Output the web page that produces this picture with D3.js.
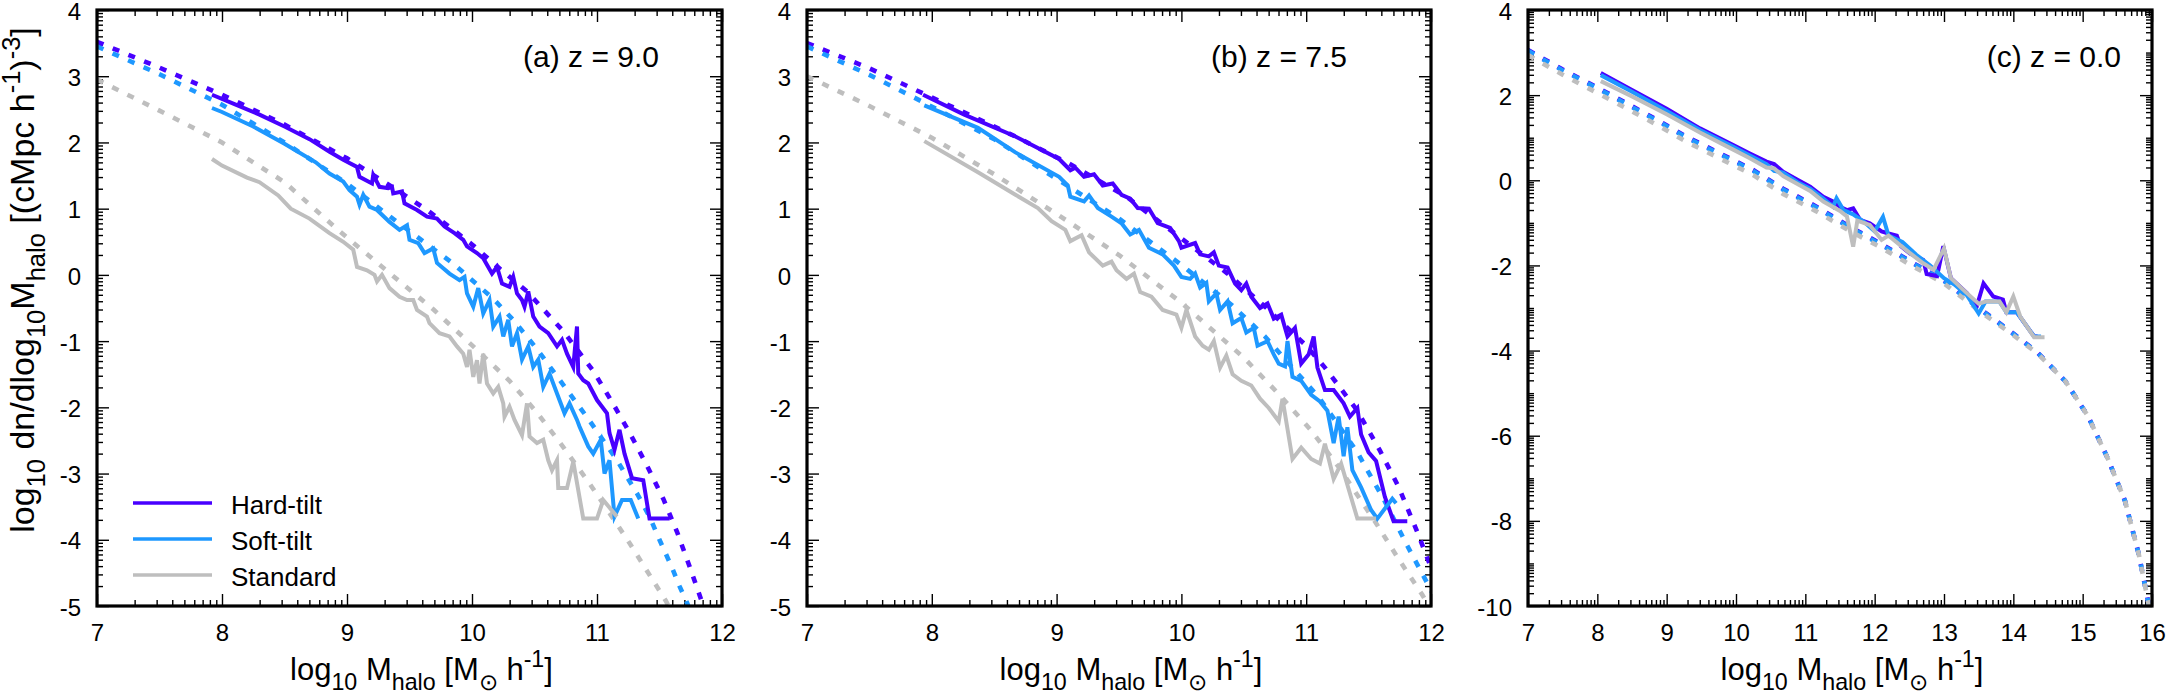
<!DOCTYPE html>
<html lang="en">
<head>
  <meta charset="UTF-8" />
  <title>Halo mass function</title>
  <script src="https://d3js.org/d3.v7.min.js"></script>
  <style>
    body { margin: 0; padding: 0; background: #fff; }
    svg { display: block; font-family: "Liberation Sans", Arial, Helvetica, sans-serif; }
    .tick line { stroke: #000; stroke-width: 1.4; }
    .tick text { fill: #000; }
  </style>
</head>
<body>
<div id="chart"></div>
<script>
  // tick values
  const xTicksAB = [7, 8, 9, 10, 11, 12];
  const xTicksC = [7, 8, 9, 10, 11, 12, 13, 14, 15, 16];
  const yTicksAB = [-5, -4, -3, -2, -1, 0, 1, 2, 3, 4];
  const yTicksC = [-10, -8, -6, -4, -2, 0, 2, 4];

  const seriesNames = ["Hard-tilt", "Soft-tilt", "Standard"];
  const seriesColors = ["#4800ff", "#1e98ff", "#bebebe"];

  // (a) z = 9.0  -- simulation (solid), [log10 M, log10 dn/dlogM]
  const hardSimA = [[7.92,2.72],[8.1,2.58],[8.3,2.42],[8.5,2.24],[8.7,2.05],[8.86,1.86],[8.97,1.74],[9.08,1.63],[9.1,1.48],[9.2,1.38],[9.21,1.51],[9.26,1.33],[9.33,1.31],[9.36,1.33],[9.37,1.23],[9.44,1.26],[9.46,1.08],[9.56,0.98],[9.64,0.88],[9.72,0.85],[9.78,0.73],[9.86,0.63],[9.93,0.53],[9.96,0.43],[10.04,0.33],[10.09,0.25],[10.16,0.02],[10.2,0.12],[10.24,-0.13],[10.3,-0.18],[10.33,-0.03],[10.36,-0.28],[10.4,-0.38],[10.42,-0.48],[10.45,-0.25],[10.49,-0.63],[10.54,-0.78],[10.61,-0.88],[10.68,-1.08],[10.72,-0.98],[10.76,-1.19],[10.81,-1.39],[10.84,-0.78],[10.85,-1.49],[10.89,-1.59],[10.93,-1.64],[11.0,-1.89],[11.08,-2.09],[11.1,-2.39],[11.14,-2.64],[11.18,-2.34],[11.22,-2.7],[11.28,-3.07],[11.37,-3.1],[11.42,-3.68],[11.58,-3.68]];
  const softSimA = [[7.92,2.52],[8.0,2.46],[8.25,2.24],[8.5,1.98],[8.75,1.7],[8.86,1.53],[8.97,1.41],[9.02,1.28],[9.08,1.18],[9.1,1.06],[9.13,1.21],[9.18,1.03],[9.24,0.98],[9.34,0.8],[9.42,0.68],[9.48,0.75],[9.5,0.53],[9.57,0.48],[9.62,0.33],[9.69,0.4],[9.72,0.18],[9.82,0.02],[9.9,-0.08],[9.94,-0.03],[9.96,-0.28],[10.01,-0.48],[10.05,-0.2],[10.09,-0.58],[10.14,-0.38],[10.17,-0.78],[10.22,-0.63],[10.25,-0.93],[10.29,-0.68],[10.32,-1.08],[10.36,-0.88],[10.4,-1.28],[10.45,-1.08],[10.49,-1.39],[10.53,-1.28],[10.57,-1.69],[10.62,-1.49],[10.68,-1.79],[10.74,-2.09],[10.78,-1.94],[10.84,-2.19],[10.86,-2.29],[10.93,-2.59],[10.97,-2.7],[11.03,-2.49],[11.06,-3.0],[11.1,-2.8],[11.14,-3.65],[11.2,-3.4],[11.27,-3.4],[11.33,-3.68]];
  const stdSimA = [[7.92,1.75],[8.0,1.65],[8.2,1.47],[8.3,1.4],[8.45,1.2],[8.55,1.0],[8.7,0.85],[8.86,0.63],[8.97,0.5],[9.05,0.38],[9.08,0.12],[9.16,0.07],[9.22,0.0],[9.24,-0.1],[9.28,0.0],[9.34,-0.2],[9.42,-0.33],[9.48,-0.38],[9.53,-0.38],[9.56,-0.53],[9.64,-0.63],[9.66,-0.73],[9.74,-0.88],[9.82,-0.93],[9.88,-1.08],[9.93,-1.19],[9.96,-1.39],[9.98,-1.13],[10.01,-1.54],[10.04,-1.29],[10.06,-1.64],[10.09,-1.19],[10.12,-1.64],[10.17,-1.79],[10.21,-1.69],[10.25,-1.94],[10.26,-2.14],[10.3,-1.99],[10.34,-2.19],[10.4,-2.42],[10.44,-1.94],[10.46,-2.44],[10.52,-2.54],[10.57,-2.49],[10.61,-2.8],[10.64,-2.95],[10.68,-2.8],[10.69,-3.22],[10.76,-3.22],[10.81,-2.82],[10.89,-3.68],[11.0,-3.68],[11.05,-3.4],[11.16,-3.65]];
  // (a) model (dotted)
  const hardModelA = [[7,3.52],[7.5,3.13],[8,2.72],[8.5,2.27],[9,1.76],[9.4,1.28],[9.64,0.98],[9.85,0.68],[10,0.46],[10.2,0.13],[10.44,-0.25],[10.73,-0.85],[10.97,-1.45],[11.13,-1.95],[11.26,-2.38],[11.4,-2.88],[11.53,-3.38],[11.64,-3.88],[11.74,-4.4],[11.84,-4.94],[11.87,-5.1]];
  const softModelA = [[7,3.45],[7.5,3.03],[8,2.57],[8.5,2.0],[9,1.38],[9.24,1.03],[9.5,0.66],[9.85,0.17],[10.17,-0.36],[10.33,-0.68],[10.52,-1.12],[10.73,-1.66],[10.94,-2.2],[11.16,-2.8],[11.32,-3.3],[11.42,-3.65],[11.5,-4.0],[11.6,-4.42],[11.66,-4.7],[11.72,-4.95],[11.75,-5.1]];
  const stdModelA = [[7,2.95],[7.5,2.48],[8,2.0],[8.5,1.4],[8.94,0.66],[9.32,0.06],[9.69,-0.52],[10.01,-1.08],[10.3,-1.6],[10.52,-2.08],[10.73,-2.6],[10.94,-3.15],[11.13,-3.68],[11.26,-4.05],[11.55,-4.92],[11.6,-5.1]];

  // (b) z = 7.5
  const hardSimB = [[7.93,2.72],[8.26,2.42],[8.67,2.09],[9.02,1.75],[9.11,1.58],[9.15,1.62],[9.22,1.48],[9.3,1.52],[9.37,1.35],[9.45,1.38],[9.52,1.21],[9.59,1.15],[9.65,1.01],[9.74,1.0],[9.81,0.78],[9.91,0.71],[9.98,0.51],[10.0,0.41],[10.11,0.48],[10.15,0.31],[10.22,0.28],[10.26,0.34],[10.3,0.14],[10.37,0.11],[10.43,-0.13],[10.48,-0.23],[10.52,-0.13],[10.56,-0.33],[10.63,-0.5],[10.69,-0.43],[10.74,-0.66],[10.8,-0.6],[10.85,-0.93],[10.91,-0.8],[10.96,-1.34],[11.02,-1.2],[11.06,-0.93],[11.09,-1.4],[11.15,-1.74],[11.22,-1.74],[11.3,-1.94],[11.35,-2.14],[11.41,-2.01],[11.44,-2.41],[11.5,-2.68],[11.56,-2.81],[11.63,-3.35],[11.7,-3.72],[11.81,-3.72]];
  const softSimB = [[7.94,2.56],[8.37,2.22],[8.67,1.85],[9.02,1.48],[9.09,1.35],[9.11,1.18],[9.22,1.11],[9.26,1.2],[9.33,1.01],[9.44,0.88],[9.52,0.78],[9.59,0.61],[9.66,0.68],[9.74,0.41],[9.85,0.31],[9.94,0.14],[10.0,-0.03],[10.07,-0.06],[10.11,0.02],[10.15,-0.19],[10.2,-0.12],[10.22,-0.4],[10.28,-0.28],[10.31,-0.53],[10.37,-0.4],[10.41,-0.73],[10.48,-0.65],[10.52,-0.87],[10.58,-0.8],[10.61,-1.07],[10.69,-1.0],[10.74,-1.2],[10.78,-1.34],[10.83,-1.38],[10.85,-1.0],[10.89,-1.54],[10.96,-1.6],[11.04,-1.81],[11.11,-1.91],[11.17,-2.05],[11.22,-2.54],[11.26,-2.14],[11.3,-2.74],[11.33,-2.3],[11.37,-2.95],[11.44,-3.21],[11.52,-3.55],[11.57,-3.68],[11.69,-3.38],[11.72,-3.45]];
  const stdSimB = [[7.94,2.02],[8.37,1.55],[8.67,1.21],[8.85,1.01],[8.96,0.81],[9.07,0.68],[9.11,0.51],[9.2,0.6],[9.26,0.34],[9.37,0.14],[9.44,0.2],[9.48,0.07],[9.56,-0.06],[9.62,0.02],[9.67,-0.26],[9.76,-0.33],[9.85,-0.53],[9.96,-0.6],[10.0,-0.8],[10.04,-0.53],[10.11,-0.93],[10.17,-1.07],[10.22,-1.13],[10.26,-1.0],[10.31,-1.4],[10.36,-1.22],[10.41,-1.5],[10.48,-1.6],[10.56,-1.67],[10.63,-1.87],[10.7,-2.01],[10.78,-2.21],[10.81,-1.87],[10.89,-2.78],[10.96,-2.61],[11.04,-2.78],[11.11,-2.85],[11.15,-2.55],[11.22,-3.08],[11.28,-2.85],[11.41,-3.68],[11.56,-3.68]];
  const hardModelB = [[7,3.5],[7.5,3.12],[7.93,2.74],[8.3,2.42],[8.67,2.09],[9.1,1.68],[9.56,1.18],[10,0.55],[10.37,0.02],[10.67,-0.48],[11,-1.07],[11.15,-1.4],[11.41,-2.05],[11.59,-2.65],[11.74,-3.2],[11.89,-3.88],[12,-4.42],[12.05,-4.7]];
  const softModelB = [[7,3.45],[7.5,3.02],[7.94,2.6],[8.5,2.05],[9,1.45],[9.5,0.85],[10,0.15],[10.4,-0.45],[10.67,-0.93],[11.11,-1.87],[11.41,-2.68],[11.63,-3.42],[11.81,-4.09],[12,-4.76],[12.05,-4.95]];
  const stdModelB = [[7,3.0],[7.5,2.55],[8,2.07],[8.5,1.52],[9,0.92],[9.5,0.3],[10,-0.42],[10.5,-1.25],[10.78,-1.8],[11.04,-2.35],[11.26,-2.9],[11.56,-3.75],[11.74,-4.29],[11.93,-4.83],[12,-5.05]];

  // (c) z = 0.0
  const hardSimC = [[8.05,2.52],[8.5,2.12],[9,1.68],[9.48,1.22],[9.96,0.83],[10.2,0.63],[10.44,0.44],[10.55,0.38],[10.68,0.2],[10.88,0.02],[11.07,-0.15],[11.26,-0.39],[11.4,-0.5],[11.5,-0.62],[11.6,-0.7],[11.69,-0.66],[11.79,-0.93],[11.93,-1.01],[12.1,-1.2],[12.2,-1.25],[12.32,-1.3],[12.38,-1.55],[12.51,-1.72],[12.7,-1.87],[12.75,-2.2],[12.9,-2.25],[12.99,-1.55],[13.1,-2.3],[13.33,-2.65],[13.47,-2.97],[13.57,-2.42],[13.71,-2.73],[13.85,-2.8],[13.9,-3.1],[14.05,-3.1],[14.3,-3.67],[14.35,-3.67]];
  const softSimC = [[8.05,2.47],[8.5,2.08],[9,1.63],[9.48,1.18],[9.96,0.79],[10.2,0.58],[10.44,0.38],[10.55,0.22],[10.68,0.18],[10.88,-0.04],[11.07,-0.2],[11.26,-0.43],[11.4,-0.62],[11.45,-0.42],[11.55,-0.7],[11.69,-0.8],[11.85,-0.98],[12.0,-1.2],[12.12,-0.86],[12.2,-1.3],[12.4,-1.45],[12.6,-1.75],[12.8,-2.0],[13.0,-2.3],[13.15,-2.45],[13.33,-2.7],[13.5,-3.13],[13.6,-2.85],[13.8,-2.85],[13.9,-3.1],[14.05,-3.1],[14.3,-3.67],[14.4,-3.67]];
  const stdSimC = [[8.05,2.33],[8.5,1.97],[9,1.55],[9.48,1.12],[9.96,0.72],[10.2,0.52],[10.44,0.3],[10.55,0.28],[10.68,0.1],[10.88,-0.08],[11.07,-0.25],[11.26,-0.5],[11.5,-0.72],[11.6,-0.85],[11.69,-1.56],[11.75,-0.95],[11.93,-1.05],[12.1,-1.4],[12.2,-1.3],[12.5,-1.7],[12.7,-1.95],[12.85,-2.1],[13.0,-1.6],[13.1,-2.3],[13.33,-2.65],[13.5,-2.9],[13.6,-2.85],[13.8,-2.85],[13.9,-3.1],[14.0,-2.73],[14.1,-3.2],[14.3,-3.69],[14.45,-3.69]];
  const hardModelC = [[7,3.06],[7.5,2.6],[8,2.18],[8.42,1.81],[8.86,1.42],[9.29,1.02],[9.77,0.63],[10.25,0.24],[10.68,-0.2],[11.16,-0.62],[11.64,-1.09],[12.08,-1.48],[12.56,-1.95],[12.99,-2.34],[13.52,-3.02],[14.0,-3.6],[14.35,-4.05],[14.75,-4.72],[15.08,-5.55],[15.35,-6.49],[15.61,-7.53],[15.81,-8.79],[15.95,-9.94],[15.98,-10.3]];
  const softModelC = [[7,3.04],[7.5,2.58],[8,2.16],[8.42,1.79],[8.86,1.4],[9.29,1.0],[9.77,0.61],[10.25,0.22],[10.68,-0.22],[11.16,-0.64],[11.64,-1.11],[12.08,-1.5],[12.56,-1.96],[12.99,-2.35],[13.52,-3.03],[14.0,-3.61],[14.35,-4.05],[14.75,-4.72],[15.08,-5.55],[15.35,-6.49],[15.61,-7.53],[15.81,-8.79],[15.95,-9.94],[15.98,-10.3]];
  const stdModelC = [[7,2.94],[7.5,2.48],[8,2.05],[8.42,1.69],[8.86,1.3],[9.29,0.9],[9.77,0.51],[10.25,0.12],[10.68,-0.32],[11.16,-0.73],[11.64,-1.19],[12.08,-1.57],[12.56,-2.03],[12.99,-2.41],[13.52,-3.08],[14.0,-3.64],[14.35,-4.07],[14.75,-4.72],[15.08,-5.55],[15.35,-6.49],[15.61,-7.53],[15.81,-8.79],[15.95,-9.94],[15.98,-10.3]];

  const width = 2166, height = 695;
  const plotTop = 10, plotBottom = 606;

  const panels = [
    { left: 97,   right: 722,  xDom: [7, 12], yDom: [-5, 4],  xTicks: xTicksAB, yTicks: yTicksAB, label: "(a) z = 9.0", labelX: 659,
      sim: [hardSimA, softSimA, stdSimA], model: [hardModelA, softModelA, stdModelA], legend: true },
    { left: 807,  right: 1431, xDom: [7, 12], yDom: [-5, 4],  xTicks: xTicksAB, yTicks: yTicksAB, label: "(b) z = 7.5", labelX: 1347,
      sim: [hardSimB, softSimB, stdSimB], model: [hardModelB, softModelB, stdModelB] },
    { left: 1528, right: 2152, xDom: [7, 16], yDom: [-10, 4], xTicks: xTicksC, yTicks: yTicksC, label: "(c) z = 0.0", labelX: 2121,
      sim: [hardSimC, softSimC, stdSimC], model: [hardModelC, softModelC, stdModelC] }
  ];

  const svg = d3.select("#chart").append("svg")
    .attr("width", width)
    .attr("height", height);

  // minor ticks like log-style: n + log10(k)
  function minorTicks(dom, majors) {
    const out = [];
    for (let n = Math.floor(dom[0]); n < Math.ceil(dom[1]); n++) {
      for (let k = 1; k <= 9; k++) {
        const v = n + Math.log10(k);
        if (v > dom[0] && v < dom[1] && !majors.includes(v)) out.push(v);
      }
    }
    return out;
  }

  // text with sub/superscripts
  function richText(sel, parts, size) {
    let shift = 0;
    parts.forEach(p => {
      const target = p.sub ? size * 0.32 : p.sup ? -size * 0.42 : 0;
      const ts = sel.append("tspan").text(p.t).attr("dy", target - shift);
      if (p.sub || p.sup) ts.attr("font-size", size * 0.75);
      shift = target;
    });
  }

  const xTitle = [{t: "log"}, {t: "10", sub: true}, {t: " M"}, {t: "halo", sub: true}, {t: " [M"}, {t: "\u2299", sub: true}, {t: " h"}, {t: "-1", sup: true}, {t: "]"}];
  const yTitle = [{t: "log"}, {t: "10", sub: true}, {t: " dn/dlog"}, {t: "10", sub: true}, {t: "M"}, {t: "halo", sub: true}, {t: " [(cMpc h"}, {t: "-1", sup: true}, {t: ")"}, {t: "-3", sup: true}, {t: "]"}];

  panels.forEach((p, i) => {
    const x = d3.scaleLinear().domain(p.xDom).range([p.left, p.right]);
    const y = d3.scaleLinear().domain(p.yDom).range([plotBottom, plotTop]);
    const g = svg.append("g");

    const clipId = "clip" + i;
    svg.append("clipPath").attr("id", clipId)
      .append("rect").attr("x", p.left).attr("y", plotTop)
      .attr("width", p.right - p.left).attr("height", plotBottom - plotTop);

    const xMinor = minorTicks(p.xDom, p.xTicks);
    const yMinor = minorTicks(p.yDom, p.yTicks);
    const noLabel = () => "";
    const clean = s => s.select(".domain").remove();

    // bottom / top
    g.append("g").attr("transform", `translate(0,${plotBottom})`)
      .call(d3.axisBottom(x).tickValues(p.xTicks).tickSize(-12).tickPadding(18).tickSizeOuter(0).tickFormat(d => String(d)))
      .call(clean)
      .selectAll("text").attr("font-size", 24).attr("font-family", null);
    g.append("g").attr("transform", `translate(0,${plotBottom})`)
      .call(d3.axisBottom(x).tickValues(xMinor).tickSize(-6).tickSizeOuter(0).tickFormat(noLabel)).call(clean);
    g.append("g").attr("transform", `translate(0,${plotTop})`)
      .call(d3.axisTop(x).tickValues(p.xTicks).tickSize(-12).tickSizeOuter(0).tickFormat(noLabel)).call(clean);
    g.append("g").attr("transform", `translate(0,${plotTop})`)
      .call(d3.axisTop(x).tickValues(xMinor).tickSize(-6).tickSizeOuter(0).tickFormat(noLabel)).call(clean);

    // left / right
    g.append("g").attr("transform", `translate(${p.left},0)`)
      .call(d3.axisLeft(y).tickValues(p.yTicks).tickSize(-12).tickPadding(16).tickSizeOuter(0).tickFormat(d => String(d)))
      .call(clean)
      .selectAll("text").attr("font-size", 24).attr("font-family", null).attr("dy", "0.38em");
    g.append("g").attr("transform", `translate(${p.left},0)`)
      .call(d3.axisLeft(y).tickValues(yMinor).tickSize(-6).tickSizeOuter(0).tickFormat(noLabel)).call(clean);
    g.append("g").attr("transform", `translate(${p.right},0)`)
      .call(d3.axisRight(y).tickValues(p.yTicks).tickSize(-12).tickSizeOuter(0).tickFormat(noLabel)).call(clean);
    g.append("g").attr("transform", `translate(${p.right},0)`)
      .call(d3.axisRight(y).tickValues(yMinor).tickSize(-6).tickSizeOuter(0).tickFormat(noLabel)).call(clean);

    const line = d3.line().x(d => x(d[0])).y(d => y(d[1]));
    const curves = g.append("g").attr("clip-path", `url(#${clipId})`);

    // model curves (dotted)
    p.model.forEach((data, j) => {
      curves.append("path").datum(data)
        .attr("d", line)
        .attr("fill", "none")
        .attr("stroke", seriesColors[j])
        .attr("stroke-width", 4.6)
        .attr("stroke-dasharray", "7,10");
    });
    // simulation curves (solid)
    p.sim.forEach((data, j) => {
      curves.append("path").datum(data)
        .attr("d", line)
        .attr("fill", "none")
        .attr("stroke", seriesColors[j])
        .attr("stroke-width", 4)
        .attr("stroke-linejoin", "miter");
    });

    // frame
    g.append("rect")
      .attr("x", p.left).attr("y", plotTop)
      .attr("width", p.right - p.left).attr("height", plotBottom - plotTop)
      .attr("fill", "none").attr("stroke", "#000").attr("stroke-width", 3.2);

    // panel label
    g.append("text")
      .attr("x", p.labelX).attr("y", 67)
      .attr("text-anchor", "end")
      .attr("font-size", 30)
      .text(p.label);

    // x title
    richText(g.append("text")
      .attr("x", (p.left + p.right) / 2 + 12).attr("y", 680)
      .attr("text-anchor", "middle")
      .attr("font-size", 31), xTitle, 31);

    if (p.legend) {
      const lg = g.append("g");
      seriesNames.forEach((name, j) => {
        const ly = 503 + j * 36;
        lg.append("line")
          .attr("x1", 133).attr("x2", 212).attr("y1", ly).attr("y2", ly)
          .attr("stroke", seriesColors[j]).attr("stroke-width", 3.6);
        lg.append("text")
          .attr("x", 231).attr("y", ly + 11)
          .attr("font-size", 26)
          .text(name);
      });
    }
  });

  // y title
  richText(svg.append("text")
    .attr("transform", "translate(34,280) rotate(-90)")
    .attr("text-anchor", "middle")
    .attr("font-size", 34), yTitle, 34);
</script>
</body>
</html>
